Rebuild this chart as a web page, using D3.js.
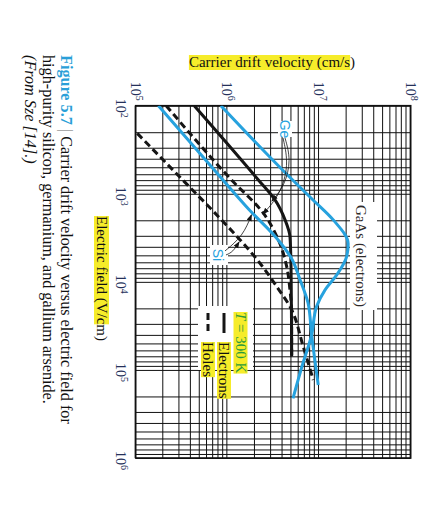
<!DOCTYPE html>
<html>
<head>
<meta charset="utf-8">
<script src="https://cdn.jsdelivr.net/npm/d3@7"></script>
<style>
  html, body { margin: 0; padding: 0; background: #fff; }
  svg { display: block; }
  text { font-family: "Liberation Serif", "Times New Roman", serif; }
</style>
</head>
<body>
<svg id="chart"></svg>
<script>
// tick labels (decades)
const fieldDecades = [1e2, 1e3, 1e4, 1e5, 1e6];
const velocityDecades = [1e5, 1e6, 1e7, 1e8];

// GaAs electrons
const gaasField = [100, 537, 1175, 1980, 3720, 5180, 8350, 12400, 19100, 40000, 92000, 210000];
const gaasVelocity = [8.5e5, 4.0e6, 8.6e6, 1.43e7, 2.08e7, 2.0e7, 1.56e7, 1.16e7, 9.4e6, 8.3e6, 6.5e6, 5.2e6];

// Si electrons
const siElecField = [100, 537, 1528, 3200, 5400, 9460, 17500, 40000, 148000];
const siElecVelocity = [1.77e5, 7.2e5, 1.74e6, 3.45e6, 5.0e6, 6.2e6, 7.6e6, 8.3e6, 9.8e6];

// Ge electrons
const geElecField = [100, 697, 1175, 1980, 3070, 6150, 22700, 70600];
const geElecVelocity = [4.35e5, 2.18e6, 3.31e6, 4.26e6, 4.82e6, 4.94e6, 5.0e6, 5.03e6];

// Ge holes
const geHoleField = [100, 697, 1663, 3340, 6720, 12400, 22700, 67600];
const geHoleVelocity = [2.15e5, 1.11e6, 2.47e6, 3.6e6, 4.44e6, 4.82e6, 5.03e6, 5.03e6];

// Si holes
const siHoleField = [206, 612, 1897, 3320, 6150, 11300, 19100, 54500, 130000];
const siHoleVelocity = [1.04e5, 2.88e5, 8.3e5, 1.37e6, 2.27e6, 3.45e6, 4.82e6, 6.73e6, 8.65e6];

// annotation arrows, [field, velocity]
const geArrowElec = [[233, 4.26e6], [413, 4.95e6], [794, 4.26e6], [1208, 3.07e6]];
const geArrowHole = [[233, 4.05e6], [471, 4.70e6], [1033, 3.75e6], [1694, 2.45e6]];
const siArrowHole = [[4950, 9.66e5], [4580, 1.15e6], [3530, 1.34e6]];
const siArrowElec = [[4460, 9.42e5], [3010, 1.48e6], [1742, 1.83e6]];

const BLUE = "#27a2de";
const BLACK = "#151515";
const YELLOW = "#f6ec2a";
const LABEL = "#25305a";

// the figure is drawn upright and then turned a quarter clockwise
const W = 514, H = 439;
const x = d3.scaleLog().domain([1e2, 1e6]).range([105.7, 458]);
const y = d3.scaleLog().domain([1e5, 1e8]).range([303.3, 28.3]);
const [x0, x1] = x.range();
const [y0, y1] = y.range();

const svg = d3.select("#chart").attr("width", H).attr("height", W);
const g = svg.append("g").attr("transform", `translate(${H},0) rotate(90)`);

svg.append("defs").append("clipPath").attr("id", "plot")
  .append("rect").attr("x", x0).attr("y", y1).attr("width", x1 - x0).attr("height", y0 - y1);

const marker = svg.select("defs").append("marker")
  .attr("id", "arrow")
  .attr("markerUnits", "userSpaceOnUse")
  .attr("viewBox", "0 -3 7 6")
  .attr("refX", 6).attr("refY", 0)
  .attr("markerWidth", 7).attr("markerHeight", 6)
  .attr("orient", "auto");
marker.append("path").attr("d", "M0,-2.6L7,0L0,2.6Z").attr("fill", BLACK);

// grid
g.append("g")
  .attr("transform", `translate(0,${y0})`)
  .call(d3.axisBottom(x).tickValues(x.ticks()).tickSize(-(y0 - y1)).tickFormat(""))
  .call(s => s.select(".domain").remove())
  .call(s => s.selectAll(".tick line").attr("stroke", "#111").attr("stroke-width", 1));

g.append("g")
  .attr("transform", `translate(${x0},0)`)
  .call(d3.axisLeft(y).tickValues(y.ticks()).tickSize(-(x1 - x0)).tickFormat(""))
  .call(s => s.select(".domain").remove())
  .call(s => s.selectAll(".tick line").attr("stroke", "#111").attr("stroke-width", 1));

g.append("rect")
  .attr("x", x0).attr("y", y1)
  .attr("width", x1 - x0).attr("height", y0 - y1)
  .attr("fill", "none").attr("stroke", "#111").attr("stroke-width", 1.6);

// tick labels
g.append("g").selectAll("text").data(fieldDecades).join("text")
  .attr("x", d => x(d) - 7).attr("y", y0 + 20)
  .attr("font-size", 14).attr("fill", LABEL)
  .text("10")
  .append("tspan").attr("dy", -5.5).attr("font-size", 10).text(d => Math.round(Math.log10(d)));

g.append("g").selectAll("text").data(velocityDecades).join("text")
  .attr("x", x0 - 5).attr("y", d => y(d) + 5)
  .attr("text-anchor", "end")
  .attr("font-size", 14).attr("fill", LABEL)
  .text("10")
  .append("tspan").attr("dy", -5.5).attr("font-size", 10).text(d => Math.round(Math.log10(d)));

// white boxes behind in-plot labels
function whiteBox(u0, u1, v0, v1) {
  g.append("rect").attr("x", u0).attr("y", v0).attr("width", u1 - u0).attr("height", v1 - v0).attr("fill", "#fff");
}
whiteBox(202, 310, 62, 89);     // GaAs label
whiteBox(306, 370, 186, 241);   // legend
whiteBox(121, 137, 147, 161);   // Ge label
whiteBox(245, 265, 211, 229);   // Si label

// curves
const line = d3.line().x(d => x(d[0])).y(d => y(d[1])).curve(d3.curveMonotoneX);
const curves = [
  { field: siHoleField, vel: siHoleVelocity, color: BLACK, dash: "7,4" },
  { field: geHoleField, vel: geHoleVelocity, color: BLACK, dash: "7,4" },
  { field: geElecField, vel: geElecVelocity, color: BLACK, dash: null },
  { field: siElecField, vel: siElecVelocity, color: BLUE, dash: null },
  { field: gaasField, vel: gaasVelocity, color: BLUE, dash: null },
];
g.append("g").attr("clip-path", "url(#plot)")
  .selectAll("path").data(curves).join("path")
  .attr("d", c => line(d3.zip(c.field, c.vel)))
  .attr("fill", "none")
  .attr("stroke", c => c.color)
  .attr("stroke-width", 3)
  .attr("stroke-dasharray", c => c.dash);

// annotation arrows
const arrowLine = d3.line().x(d => x(d[0])).y(d => y(d[1])).curve(d3.curveBasis);
g.append("g").selectAll("path")
  .data([geArrowElec, geArrowHole, siArrowHole, siArrowElec]).join("path")
  .attr("d", arrowLine)
  .attr("fill", "none").attr("stroke", BLACK).attr("stroke-width", 0.8)
  .attr("marker-end", "url(#arrow)");

g.append("text")
  .attr("x", x(184)).attr("y", y(3.75e6))
  .attr("text-anchor", "middle")
  .style("font-family", "'Liberation Sans', Arial, sans-serif")
  .attr("font-size", 14).attr("fill", BLUE).text("Ge");

g.append("text")
  .attr("x", x(4950)).attr("y", y(6.9e5))
  .attr("text-anchor", "middle")
  .style("font-family", "'Liberation Sans', Arial, sans-serif")
  .attr("font-size", 14).attr("fill", BLUE).text("Si");

g.append("text")
  .attr("x", 256).attr("y", 83.5)
  .attr("text-anchor", "middle")
  .attr("font-size", 15).attr("fill", "#2e2a2a")
  .text("GaAs (electrons)");

// yellow highlight behind the first n characters of a text
function highlight(t, n) {
  const node = t.node();
  const b = node.getBBox();
  const w = n ? node.getSubStringLength(0, n) : b.width;
  d3.select(node.parentNode).insert("rect", () => node)
    .attr("x", b.x).attr("y", b.y + 1)
    .attr("width", w).attr("height", b.height - 2)
    .attr("transform", t.attr("transform"))
    .attr("fill", YELLOW);
}

// legend
const lg = g.append("g");
lg.append("line").attr("x1", 313).attr("x2", 335).attr("y1", 231).attr("y2", 231)
  .attr("stroke", BLACK).attr("stroke-width", 3).attr("stroke-dasharray", "7,4");
lg.append("line").attr("x1", 313).attr("x2", 333).attr("y1", 215).attr("y2", 215)
  .attr("stroke", BLACK).attr("stroke-width", 3);
const holesText = lg.append("text").attr("x", 342).attr("y", 236).attr("font-size", 15).attr("fill", "#111").text("Holes");
const elecText = lg.append("text").attr("x", 342).attr("y", 220).attr("font-size", 15).attr("fill", "#111").text("Electrons");
const tText = lg.append("text").attr("x", 312).attr("y", 203.5).attr("font-size", 15).attr("fill", "#2a9a3c");
tText.append("tspan").attr("font-style", "italic").text("T");
tText.append("tspan").text(" = 300 K");
highlight(holesText);
highlight(elecText);
highlight(tText);

// axis titles
const vTitle = g.append("text")
  .attr("transform", "translate(67,167) rotate(-90)")
  .attr("text-anchor", "middle")
  .attr("font-size", 15).attr("fill", "#111")
  .text("Carrier drift velocity (cm/s)");
highlight(vTitle, 28);

const eTitle = g.append("text")
  .attr("x", 278.5).attr("y", 342)
  .attr("text-anchor", "middle")
  .attr("font-size", 15).attr("fill", "#111")
  .text("Electric field (V/cm)");
highlight(eTitle, 19);

// caption
const cap = g.append("g").attr("font-size", 16.2).attr("fill", "#111");
const c1 = cap.append("text").attr("x", 55).attr("y", 378.5);
c1.append("tspan").attr("font-weight", "bold").attr("fill", "#2a9fd8").text("Figure 5.7");
c1.append("tspan").attr("fill", "#999").text(" | ");
c1.append("tspan").text("Carrier drift velocity versus electric field for");
cap.append("text").attr("x", 55).attr("y", 396.5)
  .text("high-purity silicon, germanium, and gallium arsenide.");
cap.append("text").attr("x", 55).attr("y", 414.5).attr("font-style", "italic")
  .text("(From Sze [14].)");
</script>
</body>
</html>
